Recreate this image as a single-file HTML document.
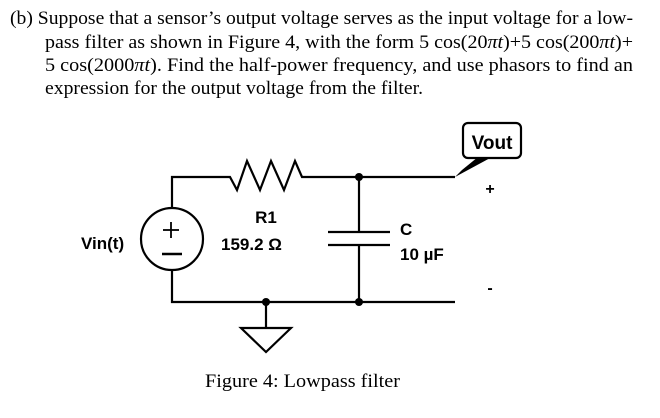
<!DOCTYPE html>
<html><head><style>html,body{margin:0;padding:0;background:#fff}svg{display:block}</style></head>
<body>
<svg width="660" height="418" viewBox="0 0 660 418" xmlns="http://www.w3.org/2000/svg">
<g font-family="Liberation Serif, serif" font-size="19" fill="#000">
<text x="10" y="24" textLength="623" lengthAdjust="spacingAndGlyphs">(b) Suppose that a sensor’s output voltage serves as the input voltage for a low-</text>
<text x="45" y="48" textLength="588" lengthAdjust="spacingAndGlyphs">pass filter as shown in Figure 4, with the form 5 cos(20<tspan font-style="italic">πt</tspan>)+5 cos(200<tspan font-style="italic">πt</tspan>)+</text>
<text x="45" y="71" textLength="588" lengthAdjust="spacingAndGlyphs">5 cos(2000<tspan font-style="italic">πt</tspan>). Find the half-power frequency, and use phasors to find an</text>
<text x="45" y="94" textLength="378" lengthAdjust="spacingAndGlyphs">expression for the output voltage from the filter.</text>
<text x="205" y="387" textLength="195" lengthAdjust="spacingAndGlyphs">Figure 4: Lowpass filter</text>
</g>
<g stroke="#000" stroke-width="2.2" fill="none" stroke-linejoin="miter">
<polyline points="172,207 172,177 230,177 237,190 247,161 260,190 271,161 284,190 295,161 302,177 455,177"/>
<polyline points="172,271 172,302 455,302"/>
<line x1="359" y1="177" x2="359" y2="232"/>
<line x1="359" y1="245" x2="359" y2="302"/>
<line x1="328" y1="232" x2="390" y2="232"/>
<line x1="328" y1="245" x2="390" y2="245"/>
<circle cx="172" cy="239" r="31"/>
<line x1="266" y1="302" x2="266" y2="328"/>
<polygon points="241,328 291,328 266,352"/>
<line x1="171" y1="222" x2="171" y2="238" stroke-width="1.8"/>
<line x1="163" y1="230" x2="179" y2="230" stroke-width="1.8"/>
<line x1="162" y1="254" x2="182" y2="254" stroke-width="2.5"/>
<rect x="463" y="123" width="58" height="35" rx="5"/>
</g>
<polygon points="455,177 462,170 478,157 492,157" fill="#000"/>
<circle cx="359" cy="177" r="4" fill="#000"/>
<circle cx="359" cy="302" r="4" fill="#000"/>
<circle cx="266" cy="302" r="4" fill="#000"/>
<g font-family="Liberation Sans, sans-serif" font-weight="bold" fill="#000">
<text x="492" y="149" font-size="19" text-anchor="middle">Vout</text>
<text x="266" y="223" font-size="17" text-anchor="middle">R1</text>
<text x="221" y="250" font-size="17">159.2 Ω</text>
<text x="400" y="235" font-size="17">C</text>
<text x="400" y="260" font-size="17">10 µF</text>
<text x="81" y="249" font-size="17">Vin(t)</text>
<text x="490" y="194" font-size="16" text-anchor="middle">+</text>
<text x="490" y="293" font-size="16" text-anchor="middle">-</text>
</g>
</svg>
</body></html>
